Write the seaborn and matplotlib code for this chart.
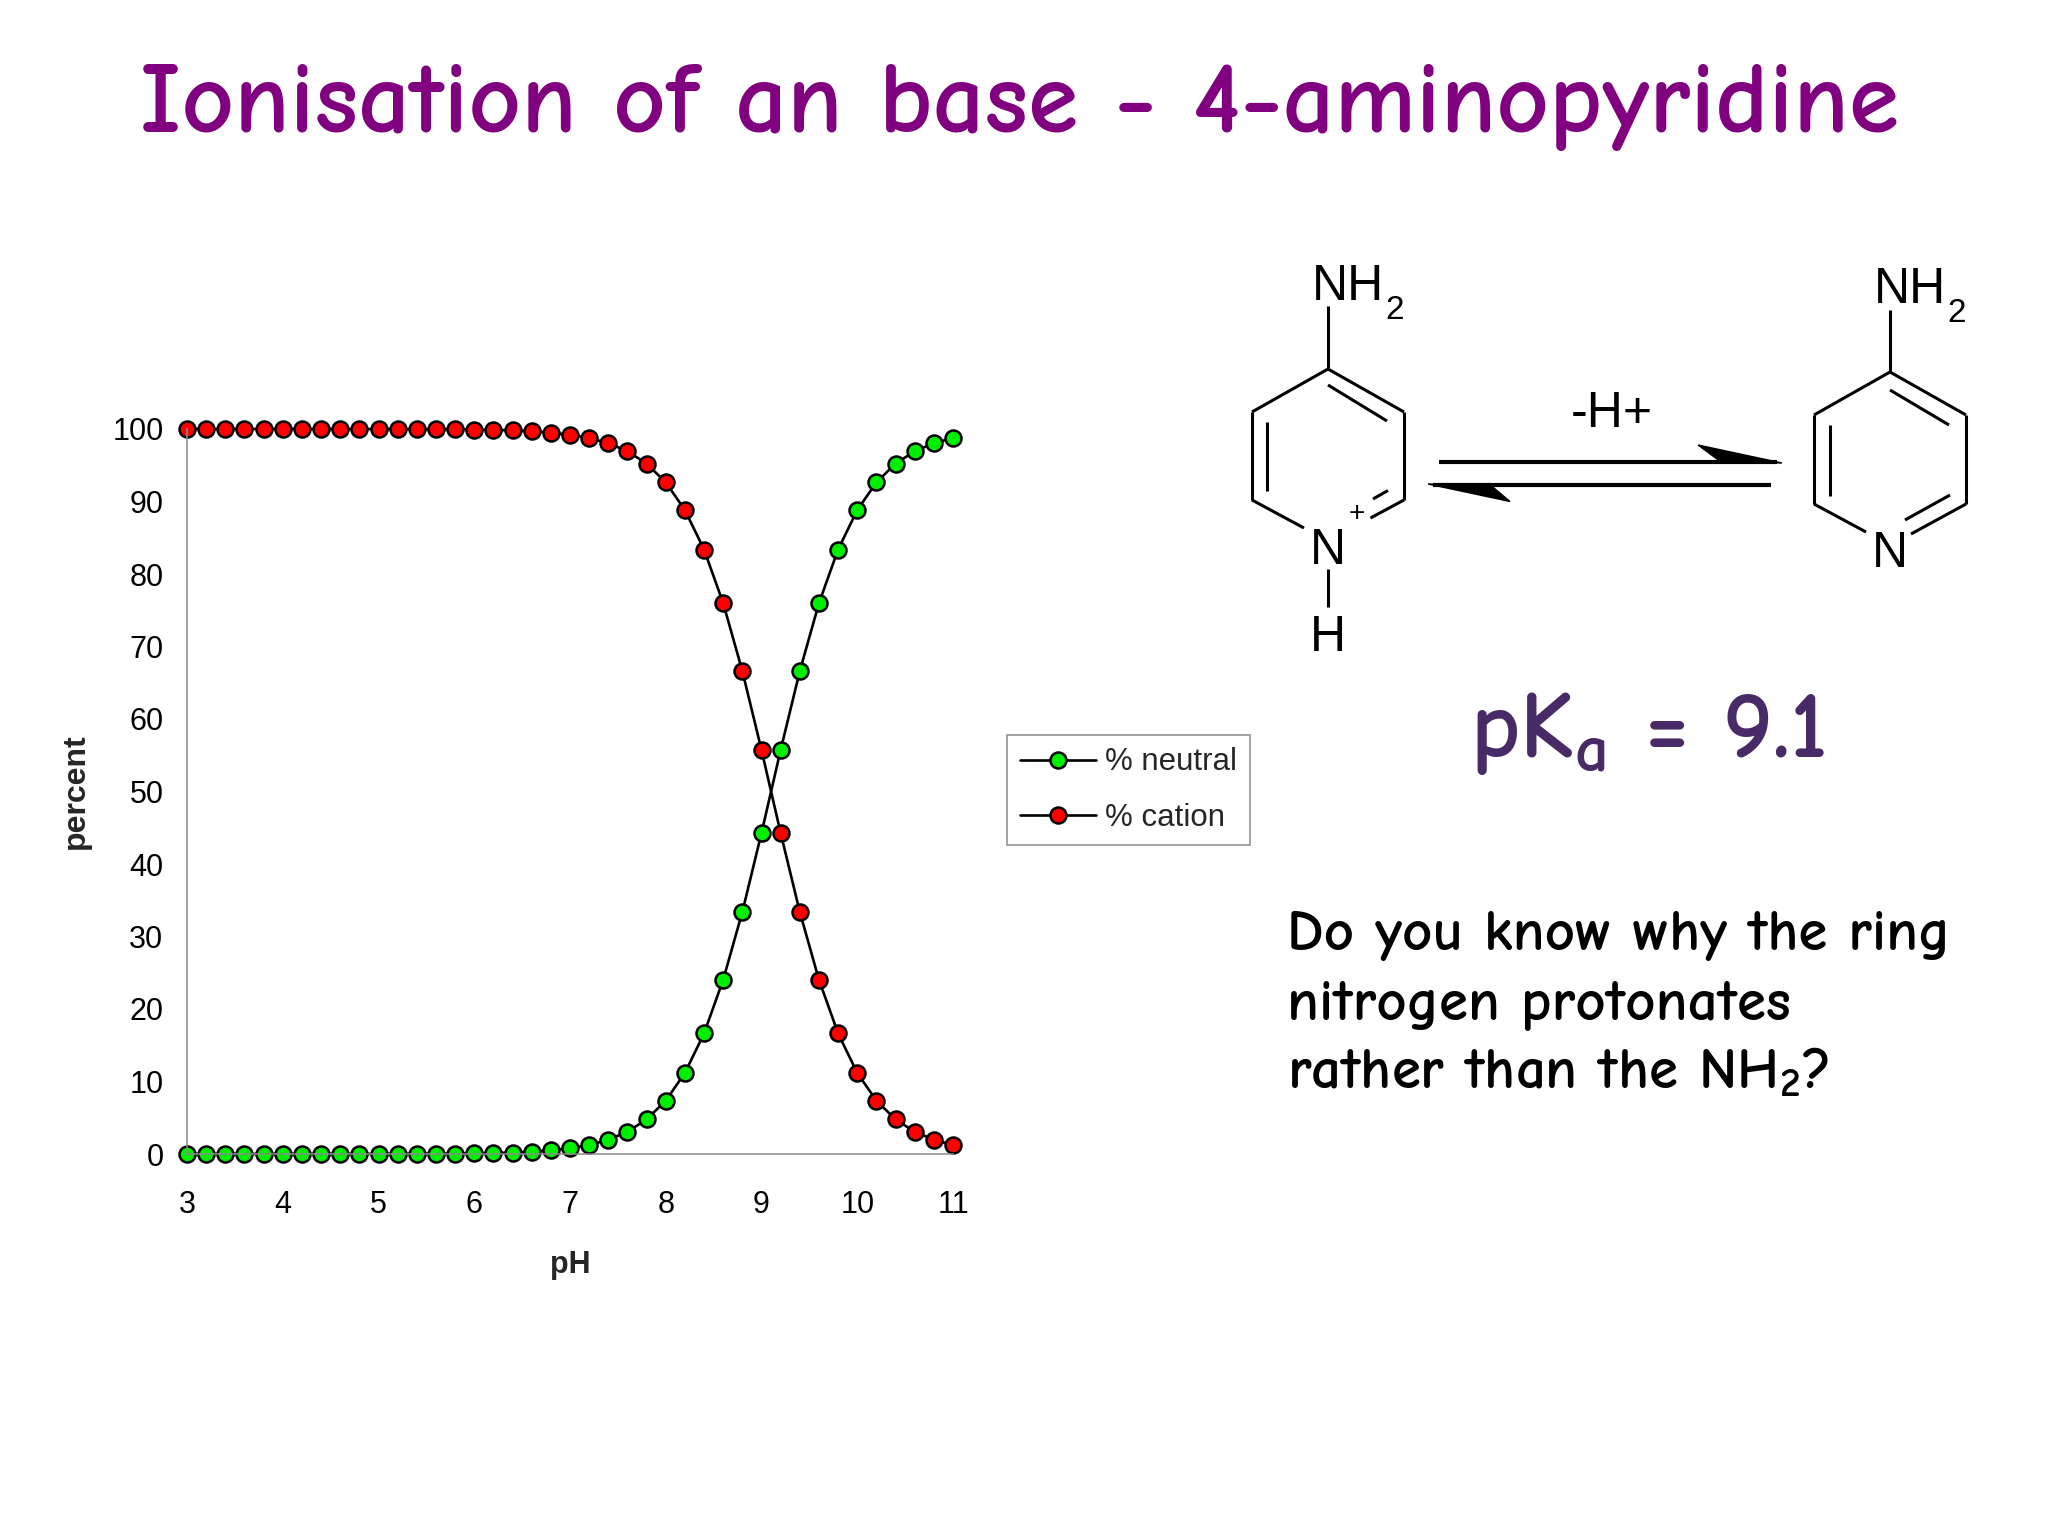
import matplotlib
matplotlib.use("Agg")
import matplotlib.pyplot as plt
import seaborn as sns
import pandas as pd
from matplotlib import font_manager as fm
from matplotlib.patches import Polygon

# ---------------- data ----------------
ph = [3.0, 3.2, 3.4, 3.6, 3.8, 4.0, 4.2, 4.4, 4.6, 4.8,
      5.0, 5.2, 5.4, 5.6, 5.8, 6.0, 6.2, 6.4, 6.6, 6.8,
      7.0, 7.2, 7.4, 7.6, 7.8, 8.0, 8.2, 8.4, 8.6, 8.8,
      9.0, 9.2, 9.4, 9.6, 9.8, 10.0, 10.2, 10.4, 10.6, 10.8, 11.0]
pct_neutral = [0.00, 0.00, 0.00, 0.00, 0.00, 0.00, 0.00, 0.00, 0.00, 0.01,
               0.01, 0.01, 0.02, 0.03, 0.05, 0.08, 0.13, 0.20, 0.32, 0.50,
               0.79, 1.24, 1.96, 3.07, 4.77, 7.36, 11.18, 16.63, 24.03, 33.39,
               44.27, 55.73, 66.61, 75.97, 83.37, 88.82, 92.64, 95.23, 96.93, 98.04, 98.76]
pct_cation = [100.00, 100.00, 100.00, 100.00, 100.00, 100.00, 100.00, 100.00, 100.00, 99.99,
              99.99, 99.99, 99.98, 99.97, 99.95, 99.92, 99.87, 99.80, 99.68, 99.50,
              99.21, 98.76, 98.04, 96.93, 95.23, 92.64, 88.82, 83.37, 75.97, 66.61,
              55.73, 44.27, 33.39, 24.03, 16.63, 11.18, 7.36, 4.77, 3.07, 1.96, 1.24]
series_names = ["% neutral", "% cation"]
marker_colors = ["#00ee00", "#ff0000"]
x_ticks = [3, 4, 5, 6, 7, 8, 9, 10, 11]
y_ticks = [0, 10, 20, 30, 40, 50, 60, 70, 80, 90, 100]

title_text = "Ionisation of an base - 4-aminopyridine"
question_lines = ["Do you know why the ring", "nitrogen protonates",
                  r"rather than the NH$_2$?"]

# ---------------- fonts ----------------
names = {f.name for f in fm.fontManager.ttflist}
def pick(*cands):
    for c in cands:
        if c in names:
            return c
    return "DejaVu Sans"

sans = pick("Liberation Sans", "Arial", "DejaVu Sans")
comic = pick("Comic Neue", "Comic Sans MS", "Lato", "Roboto", "Open Sans")

sns.set_style("white")
plt.rcParams["font.family"] = [sans, "DejaVu Sans"]
plt.rcParams["mathtext.fontset"] = "custom"
plt.rcParams["mathtext.rm"] = comic + ":bold"
plt.rcParams["mathtext.it"] = comic + ":bold"
plt.rcParams["mathtext.bf"] = comic + ":bold"

W, H = 2048, 1536
fig = plt.figure(figsize=(W / 100, H / 100), dpi=100, facecolor="white")

# overlay in pixel coordinates for slide decorations
ov = fig.add_axes([0, 0, 1, 1])
ov.set_xlim(0, W)
ov.set_ylim(H, 0)
ov.axis("off")
ov.patch.set_alpha(0)

# ---------------- chart ----------------
ax = fig.add_axes([187 / W, 1 - 1154 / H, (953 - 187) / W, (1154 - 429) / H])
ax.patch.set_alpha(0)

df = pd.DataFrame({
    "pH": ph + ph,
    "percent": pct_neutral + pct_cation,
    "series": [series_names[0]] * len(ph) + [series_names[1]] * len(ph),
})

for name, fc in zip(series_names, marker_colors):
    sub = df[df["series"] == name]
    sns.lineplot(data=sub, x="pH", y="percent", ax=ax, color="black",
                 linewidth=1.9, marker="o", markersize=11.5,
                 markerfacecolor=fc, markeredgecolor="black",
                 markeredgewidth=1.8, clip_on=False, label=name,
                 estimator=None, sort=False, errorbar=None, legend=False)

ax.set_xlim(3, 11)
ax.set_ylim(0, 100)
ax.set_xticks(x_ticks)
ax.set_yticks(y_ticks)
ax.grid(False)
for s in ["top", "right"]:
    ax.spines[s].set_visible(False)
for s in ["left", "bottom"]:
    ax.spines[s].set_color("#8c8c8c")
    ax.spines[s].set_linewidth(1.1)
ax.tick_params(axis="both", direction="inout", length=12, width=1.1,
               color="#8c8c8c", labelsize=22, labelcolor="black")
ax.tick_params(axis="y", pad=11)
ax.tick_params(axis="x", pad=20)

ax.set_xlabel("pH", fontsize=22, fontweight="bold", va="center")
ax.set_ylabel("percent", fontsize=23, fontweight="bold", va="center")
ax.xaxis.set_label_coords(0.5, (1154 - 1265) / (1154 - 429))
ax.yaxis.set_label_coords((76 - 187) / (953 - 187), 0.5)

handles, labels = ax.get_legend_handles_labels()
leg = ax.legend(handles, labels, loc="upper left",
                bbox_to_anchor=(1007 / W, 1 - 735 / H),
                bbox_transform=fig.transFigure, frameon=True, fancybox=False,
                edgecolor="#8c8c8c", framealpha=1, fontsize=22.5,
                handlelength=2.45, handletextpad=0.3, labelspacing=0.8,
                borderpad=0.4, borderaxespad=0)
leg.get_frame().set_linewidth(1.1)

# ---------------- title & texts ----------------
renderer = fig.canvas.get_renderer()
def fit_width(t, target):
    w = t.get_window_extent(renderer=renderer).width
    t.set_fontsize(t.get_fontsize() * target / w)

title = ov.text(1020, 132, title_text, ha="center", va="baseline",
                color="#800080", fontweight="bold", family=[comic, "DejaVu Sans"],
                fontsize=70)
fit_width(title, 1759)

pka = ov.text(1470, 757, r"pK$_\mathbf{a}$ = 9.1", ha="left", va="baseline",
              color="#472a66", fontweight="bold", family=[comic, "DejaVu Sans"],
              fontsize=54)
fit_width(pka, 356)

q_texts = []
for line, yb in zip(question_lines, [950, 1020, 1088]):
    q_texts.append(ov.text(1287, yb, line, ha="left", va="baseline",
                           color="black", fontweight="bold",
                           family=[comic, "DejaVu Sans"], fontsize=40))
fit_width(q_texts[0], 663)
for t in q_texts[1:]:
    t.set_fontsize(q_texts[0].get_fontsize())

# ---------------- molecules ----------------
bond_kw = dict(color="black", lw=2.2, solid_capstyle="butt")
def bond(p, q):
    ov.plot([p[0], q[0]], [p[1], q[1]], **bond_kw)

def chem(x, y, s, size=36, ha="center"):
    ov.text(x, y, s, ha=ha, va="baseline", fontsize=size, color="black",
            family=[sans, "DejaVu Sans"])

# left: 4-aminopyridinium
chem(1312, 300, "NH", ha="left")
chem(1385, 319, "2", size=24, ha="left")
bond((1328, 306), (1328, 369))
bond((1328, 369), (1404, 412))
bond((1404, 412), (1404, 500))
bond((1404, 500), (1370.5, 518))
bond((1328, 369), (1252, 412))
bond((1252, 412), (1252, 500))
bond((1252, 500), (1304, 528))
bond((1328, 385), (1387, 421))
bond((1267, 422), (1267, 490.5))
bond((1388, 490.5), (1373, 499))
chem(1328, 564, "N")
chem(1357, 521, "+", size=20)
bond((1328, 569), (1328, 607))
chem(1328, 651, "H")

# right: 4-aminopyridine
chem(1874, 303, "NH", ha="left")
chem(1947, 322, "2", size=24, ha="left")
bond((1890, 309.5), (1890, 372))
bond((1890, 372), (1966, 415))
bond((1966, 415), (1966, 504))
bond((1966, 504), (1911, 534))
bond((1890, 372), (1814, 415))
bond((1814, 415), (1814, 504))
bond((1814, 504), (1866, 532))
bond((1890, 390), (1949, 425))
bond((1830, 425), (1830, 495.5))
bond((1950, 495), (1905, 520))
chem(1890, 567, "N")

# equilibrium arrows
ov.plot([1439, 1777], [461.5, 461.5], color="black", lw=3, solid_capstyle="butt")
ov.add_patch(Polygon([(1698, 445), (1782, 463), (1719, 460.5)],
                     closed=True, facecolor="black", edgecolor="black", lw=1))
ov.plot([1433, 1771], [484.5, 484.5], color="black", lw=3, solid_capstyle="butt")
ov.add_patch(Polygon([(1428, 484), (1510, 501.5), (1491, 485.5)],
                     closed=True, facecolor="black", edgecolor="black", lw=1))
chem(1612, 427, "-H+")

fig.savefig("out.png", dpi=100, facecolor="white")
